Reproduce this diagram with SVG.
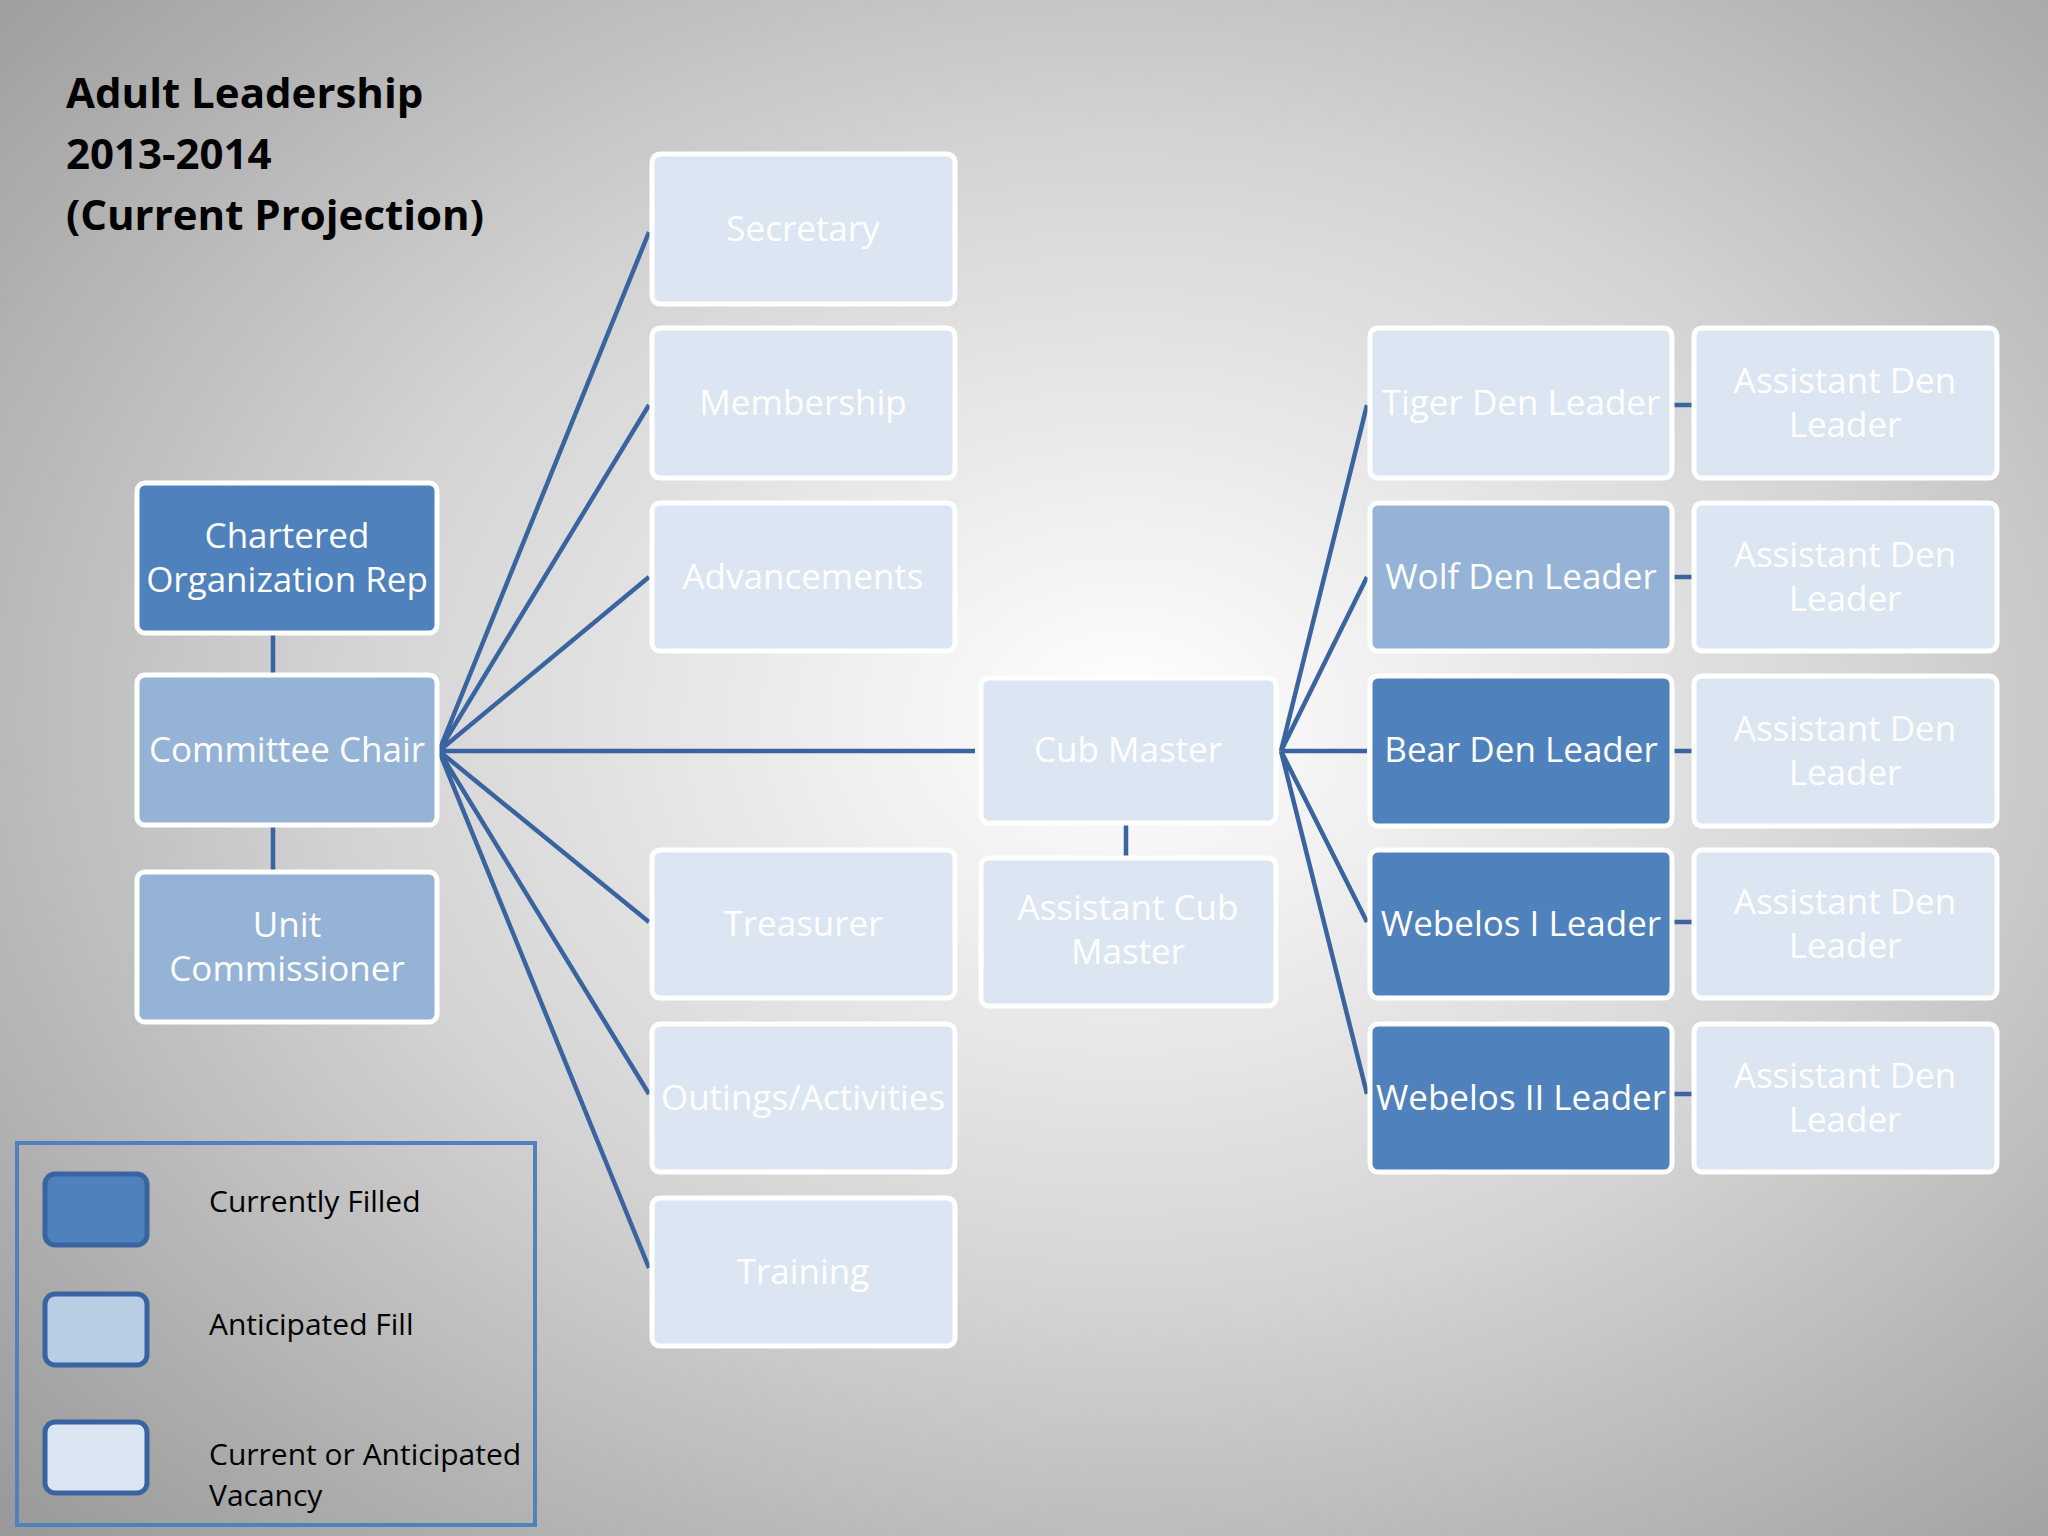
<svg xmlns="http://www.w3.org/2000/svg" width="2048" height="1536" viewBox="0 0 2048 1536">
<defs>
<radialGradient id="bg" cx="0.55" cy="0.47" r="0.75">
<stop offset="0" stop-color="#ffffff"/><stop offset="0.5" stop-color="#d4d4d4"/><stop offset="1" stop-color="#9a9a9a"/>
</radialGradient>
<style>
.b{stroke:#fff;stroke-width:5}
.d{fill:#4f81bd}.m{fill:#95b3d7}.l{fill:#dce6f2}
.t{font-family:"Open Sans","DejaVu Sans",sans-serif;font-size:35px;fill:#fff;text-anchor:middle}
.c{stroke:#3a64a0;stroke-width:4.5;fill:none}
.g{font-family:"Open Sans","DejaVu Sans",sans-serif;font-size:30px;fill:#000}
.s{stroke:#3a64a0;stroke-width:5}
</style>
</defs>
<rect width="2048" height="1536" fill="url(#bg)"/>
<g id="title" font-family="'Open Sans','DejaVu Sans',sans-serif" font-weight="bold" font-size="42" fill="#000">
<text x="66" y="108">Adult Leadership</text><text x="66" y="169">2013-2014</text><text x="66" y="230">(Current Projection)</text>
</g>
<g id="connectors">
<path class="c" d="M439 751L649 232M439 751L649 405M439 751L649 577M439 751L649 922M439 751L649 1094M439 751L649 1268M439 751H975"/>
<path class="c" d="M1281 751L1367 405M1281 751L1367 577M1281 751H1367M1281 751L1367 922M1281 751L1367 1094"/>
<path class="c" d="M1672 405H1694M1672 577H1694M1672 751H1694M1672 922H1694M1672 1094H1694"/>
<path class="c" stroke-width="9" d="M273 633V675M273 825V872M1126 818V860"/>
</g>
<g id="chartered"><rect class="b d" x="137" y="483" width="300" height="150" rx="8"/><text class="t" x="287" y="548">Chartered</text><text class="t" x="287" y="592">Organization Rep</text></g>
<g id="committee"><rect class="b m" x="137" y="675" width="300" height="150" rx="8"/><text class="t" x="287" y="762">Committee Chair</text></g>
<g id="unit"><rect class="b m" x="137" y="872" width="300" height="150" rx="8"/><text class="t" x="287" y="937">Unit</text><text class="t" x="287" y="981">Commissioner</text></g>
<g id="secretary"><rect class="b l" x="652" y="154" width="303" height="150" rx="8"/><text class="t" x="803" y="241">Secretary</text></g>
<g id="membership"><rect class="b l" x="652" y="328" width="303" height="150" rx="8"/><text class="t" x="803" y="415">Membership</text></g>
<g id="advancements"><rect class="b l" x="652" y="503" width="303" height="148" rx="8"/><text class="t" x="803" y="589">Advancements</text></g>
<g id="treasurer"><rect class="b l" x="652" y="850" width="303" height="148" rx="8"/><text class="t" x="803" y="936">Treasurer</text></g>
<g id="outings"><rect class="b l" x="652" y="1024" width="303" height="148" rx="8"/><text class="t" x="803" y="1110">Outings/Activities</text></g>
<g id="training"><rect class="b l" x="652" y="1198" width="303" height="148" rx="8"/><text class="t" x="803" y="1284">Training</text></g>
<g id="cubmaster"><rect class="b l" x="981" y="678" width="295" height="145" rx="8"/><text class="t" x="1128" y="762">Cub Master</text></g>
<g id="asstcub"><rect class="b l" x="981" y="858" width="295" height="148" rx="8"/><text class="t" x="1128" y="920">Assistant Cub</text><text class="t" x="1128" y="964">Master</text></g>
<g id="tiger"><rect class="b l" x="1370" y="328" width="302" height="150" rx="8"/><text class="t" x="1521" y="415">Tiger Den Leader</text></g>
<g id="wolf"><rect class="b m" x="1370" y="503" width="302" height="148" rx="8"/><text class="t" x="1521" y="589">Wolf Den Leader</text></g>
<g id="bear"><rect class="b d" x="1370" y="676" width="302" height="150" rx="8"/><text class="t" x="1521" y="762">Bear Den Leader</text></g>
<g id="web1"><rect class="b d" x="1370" y="850" width="302" height="148" rx="8"/><text class="t" x="1521" y="936">Webelos I Leader</text></g>
<g id="web2"><rect class="b d" x="1370" y="1024" width="302" height="148" rx="8"/><text class="t" x="1521" y="1110">Webelos II Leader</text></g>
<g id="asst1"><rect class="b l" x="1694" y="328" width="303" height="150" rx="8"/><text class="t" x="1845" y="393">Assistant Den</text><text class="t" x="1845" y="437">Leader</text></g>
<g id="asst2"><rect class="b l" x="1694" y="503" width="303" height="148" rx="8"/><text class="t" x="1845" y="567">Assistant Den</text><text class="t" x="1845" y="611">Leader</text></g>
<g id="asst3"><rect class="b l" x="1694" y="676" width="303" height="150" rx="8"/><text class="t" x="1845" y="741">Assistant Den</text><text class="t" x="1845" y="785">Leader</text></g>
<g id="asst4"><rect class="b l" x="1694" y="850" width="303" height="148" rx="8"/><text class="t" x="1845" y="914">Assistant Den</text><text class="t" x="1845" y="958">Leader</text></g>
<g id="asst5"><rect class="b l" x="1694" y="1024" width="303" height="148" rx="8"/><text class="t" x="1845" y="1088">Assistant Den</text><text class="t" x="1845" y="1132">Leader</text></g>
<g id="legend">
<rect x="17" y="1143" width="518" height="382" fill="none" stroke="#4f81bd" stroke-width="4"/>
<rect class="s d" x="45" y="1174" width="102" height="71" rx="10"/>
<rect class="s" fill="#b9cde5" x="45" y="1294" width="102" height="71" rx="10"/>
<rect class="s" fill="#dce6f2" x="45" y="1422" width="102" height="71" rx="10"/>
<text class="g" x="209" y="1212">Currently Filled</text>
<text class="g" x="209" y="1335">Anticipated Fill</text>
<text class="g" x="209" y="1465">Current or Anticipated</text>
<text class="g" x="209" y="1506">Vacancy</text>
</g>
</svg>
